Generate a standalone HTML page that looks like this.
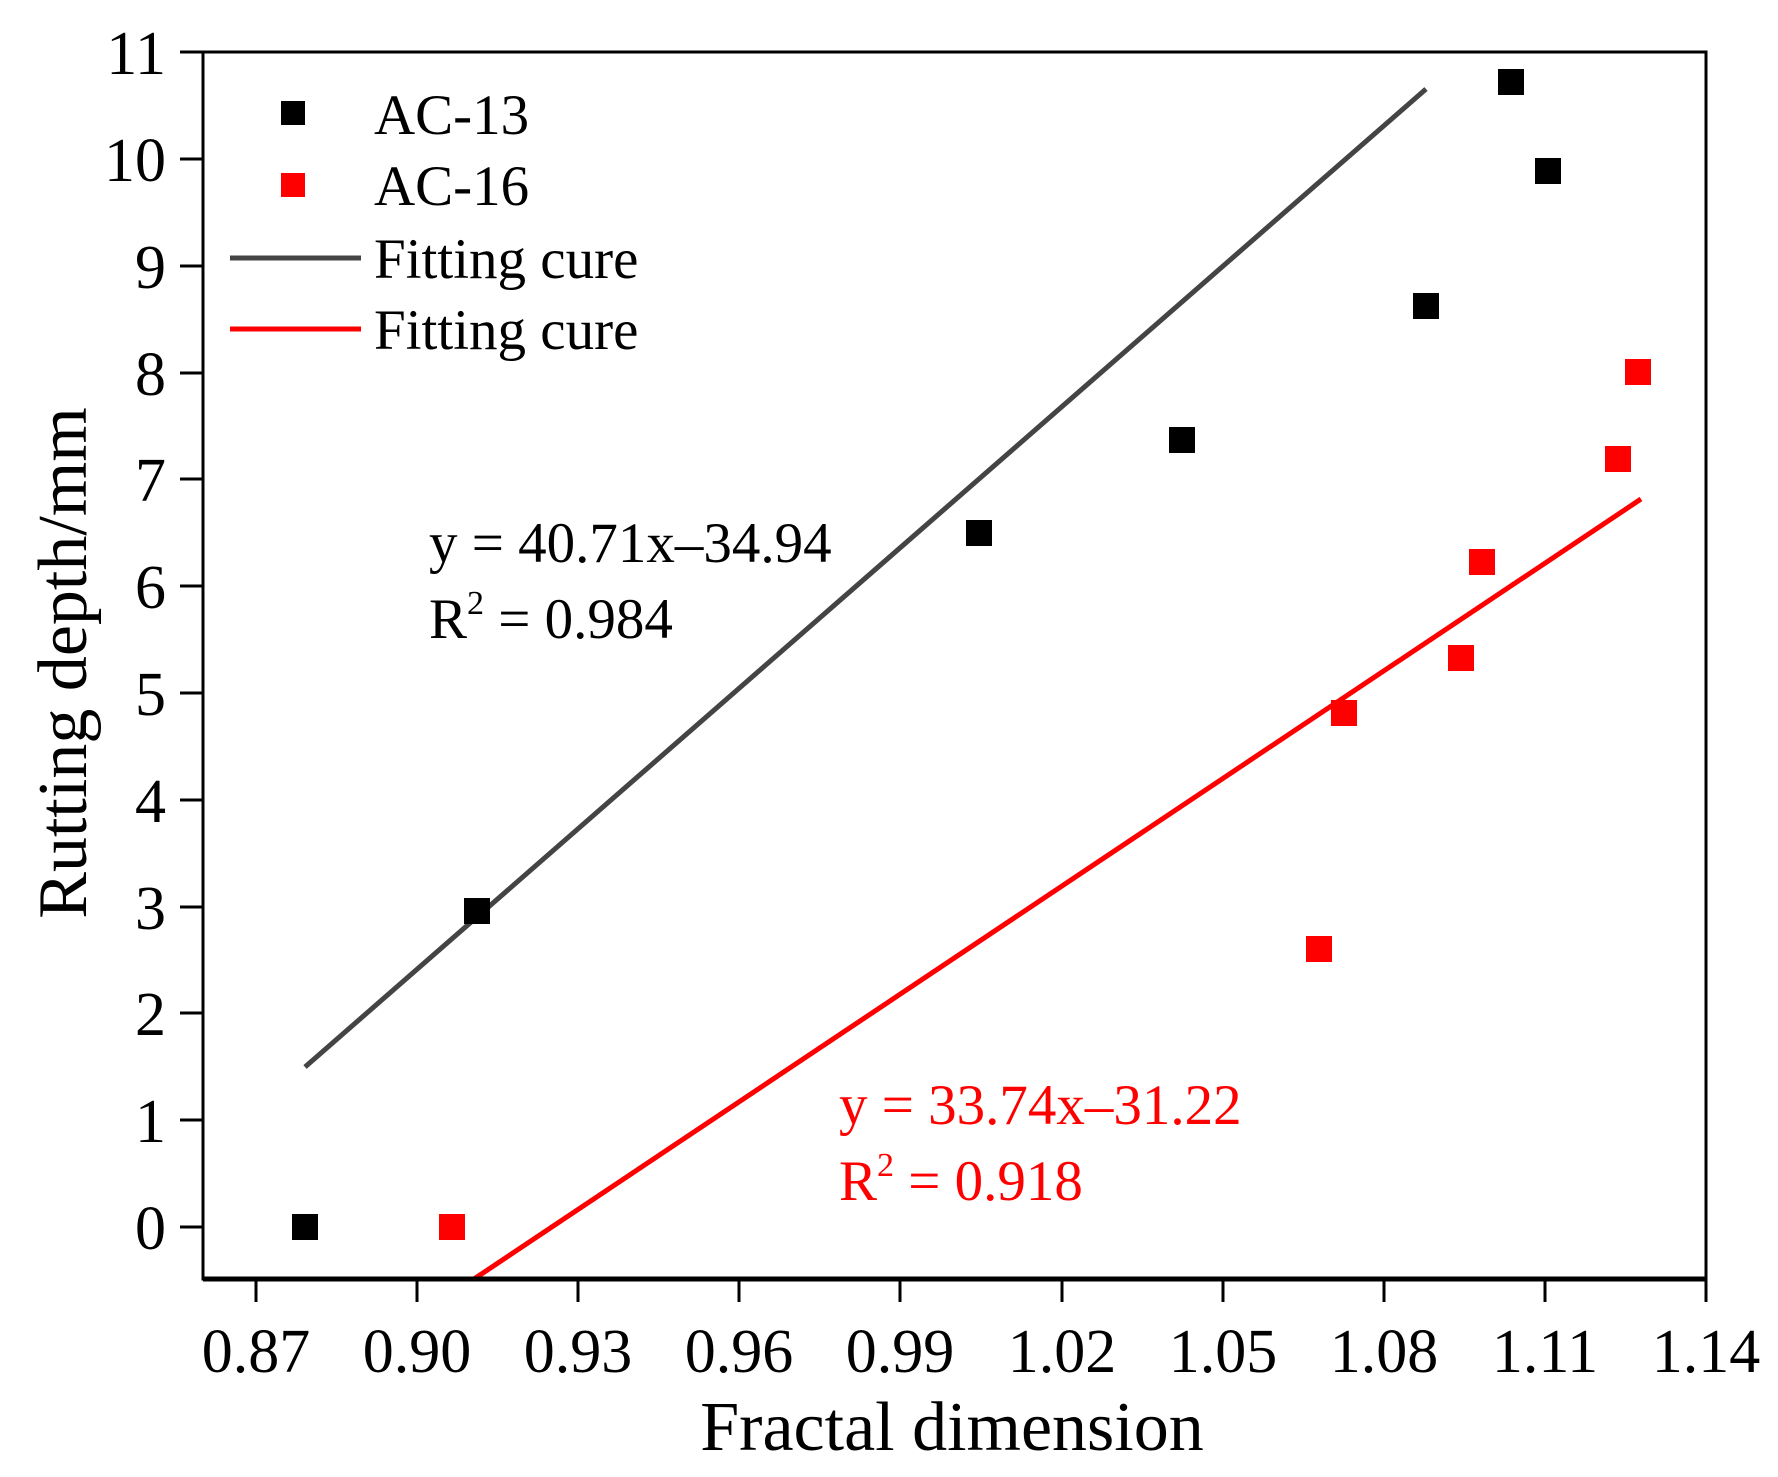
<!DOCTYPE html>
<html><head><meta charset="utf-8"><style>html,body{margin:0;padding:0;background:#fff}svg{display:block}</style></head>
<body>
<svg width="1778" height="1477" viewBox="0 0 1778 1477" xmlns="http://www.w3.org/2000/svg" font-family="'Liberation Serif', serif">
<rect width="1778" height="1477" fill="#fff"/>
<line x1="305" y1="1067" x2="1426" y2="89" stroke="#444" stroke-width="5"/>
<line x1="474" y1="1279" x2="1641" y2="499" stroke="#f00" stroke-width="5"/>
<rect x="203" y="52" width="1503" height="1227" fill="none" stroke="#000" stroke-width="3"/>
<line x1="203" y1="1279" x2="1706" y2="1279" stroke="#000" stroke-width="5"/>
<g stroke="#000" stroke-width="3">
<line x1="256" y1="1279" x2="256" y2="1302"/><line x1="417" y1="1279" x2="417" y2="1302"/><line x1="578" y1="1279" x2="578" y2="1302"/><line x1="739" y1="1279" x2="739" y2="1302"/><line x1="900" y1="1279" x2="900" y2="1302"/><line x1="1062" y1="1279" x2="1062" y2="1302"/><line x1="1223" y1="1279" x2="1223" y2="1302"/><line x1="1384" y1="1279" x2="1384" y2="1302"/><line x1="1545" y1="1279" x2="1545" y2="1302"/><line x1="1706" y1="1279" x2="1706" y2="1302"/>
<line x1="180" y1="1227" x2="203" y2="1227"/><line x1="180" y1="1120" x2="203" y2="1120"/><line x1="180" y1="1013" x2="203" y2="1013"/><line x1="180" y1="907" x2="203" y2="907"/><line x1="180" y1="800" x2="203" y2="800"/><line x1="180" y1="693" x2="203" y2="693"/><line x1="180" y1="586" x2="203" y2="586"/><line x1="180" y1="479" x2="203" y2="479"/><line x1="180" y1="373" x2="203" y2="373"/><line x1="180" y1="266" x2="203" y2="266"/><line x1="180" y1="159" x2="203" y2="159"/><line x1="180" y1="52" x2="203" y2="52"/>
</g>
<g font-size="62" text-anchor="end">
<text x="166" y="1249">0</text><text x="166" y="1142">1</text><text x="166" y="1035">2</text><text x="166" y="929">3</text><text x="166" y="822">4</text><text x="166" y="715">5</text><text x="166" y="608">6</text><text x="166" y="501">7</text><text x="166" y="395">8</text><text x="166" y="288">9</text><text x="166" y="181">10</text><text x="166" y="74">11</text>
</g>
<g font-size="62" text-anchor="middle">
<text x="256" y="1372">0.87</text><text x="417" y="1372">0.90</text><text x="578" y="1372">0.93</text><text x="739" y="1372">0.96</text><text x="900" y="1372">0.99</text><text x="1062" y="1372">1.02</text><text x="1223" y="1372">1.05</text><text x="1384" y="1372">1.08</text><text x="1545" y="1372">1.11</text><text x="1706" y="1372">1.14</text>
</g>
<text x="952" y="1450" font-size="70" text-anchor="middle">Fractal dimension</text>
<text transform="translate(86,663) rotate(-90)" font-size="70" text-anchor="middle">Rutting depth/mm</text>
<g fill="#000">
<rect x="292" y="1214" width="26" height="26"/><rect x="464" y="898" width="26" height="26"/><rect x="966" y="520" width="26" height="26"/><rect x="1169" y="427" width="26" height="26"/><rect x="1413" y="293" width="26" height="26"/><rect x="1498" y="69" width="26" height="26"/><rect x="1535" y="158" width="26" height="26"/>
</g>
<g fill="#f00">
<rect x="439" y="1214" width="26" height="26"/><rect x="1306" y="936" width="26" height="26"/><rect x="1331" y="700" width="26" height="26"/><rect x="1448" y="645" width="26" height="26"/><rect x="1469" y="549" width="26" height="26"/><rect x="1605" y="446" width="26" height="26"/><rect x="1625" y="359" width="26" height="26"/>
</g>
<rect x="281" y="101" width="24" height="24" fill="#000"/>
<rect x="281" y="173" width="24" height="24" fill="#f00"/>
<line x1="230" y1="258" x2="361" y2="258" stroke="#444" stroke-width="5"/>
<line x1="230" y1="329" x2="361" y2="329" stroke="#f00" stroke-width="5"/>
<g font-size="57">
<text x="374" y="134">AC-13</text><text x="374" y="205">AC-16</text><text x="374" y="278">Fitting cure</text><text x="374" y="349">Fitting cure</text>
</g>
<g font-size="57">
<text x="429" y="562">y = 40.71x–34.94</text>
<text x="429" y="638">R<tspan font-size="34" dy="-24">2</tspan><tspan dy="24"> = 0.984</tspan></text>
</g>
<g font-size="57" fill="#f00">
<text x="839" y="1124">y = 33.74x–31.22</text>
<text x="839" y="1200">R<tspan font-size="34" dy="-24">2</tspan><tspan dy="24"> = 0.918</tspan></text>
</g>
</svg>
</body></html>
